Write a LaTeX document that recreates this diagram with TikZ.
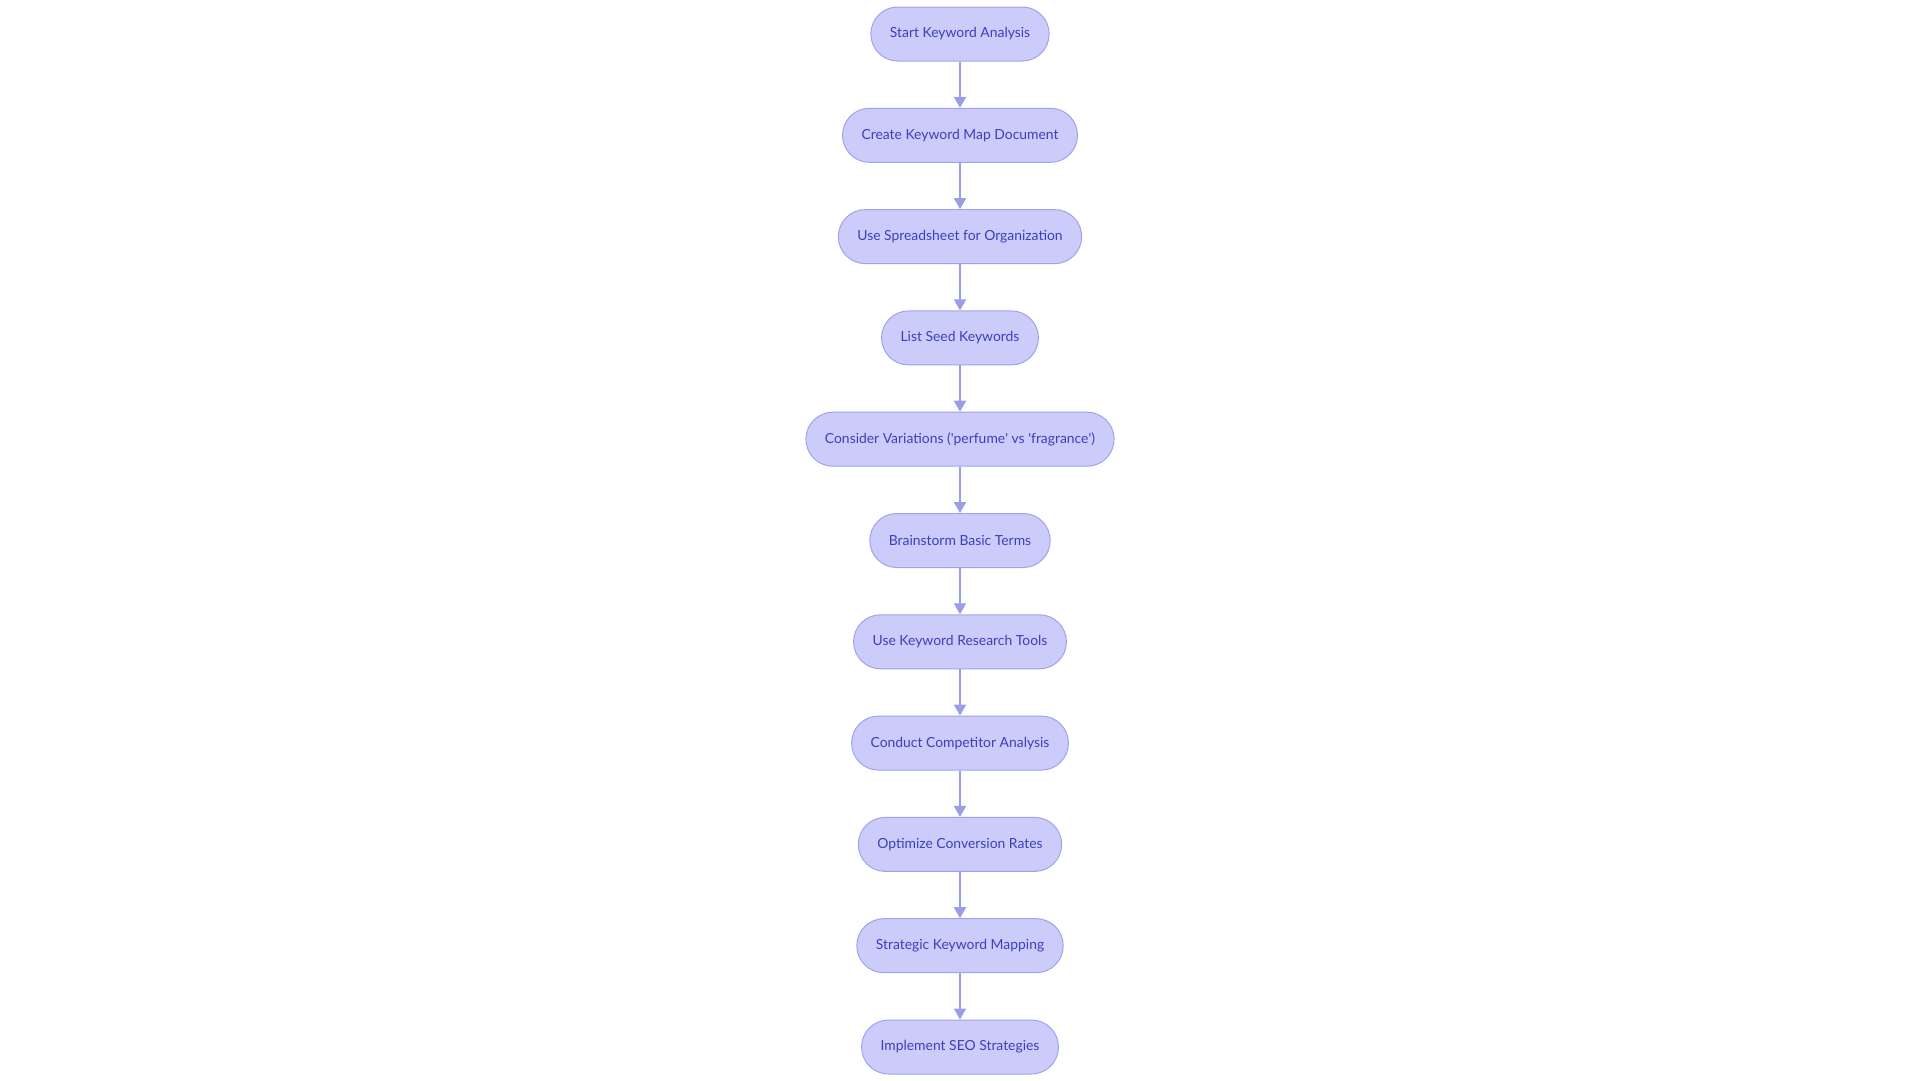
\documentclass[tikz,border=0pt]{standalone}
\usepackage{fontspec}
\setmainfont{Lato}
\newfontfamily\plainquote{Lato}[Ligatures=ResetAll]
\usepackage{xcolor}
\usepackage{tikz}
\usetikzlibrary{positioning,arrows.meta}

\definecolor{stepfill}{RGB}{203,204,250}
\definecolor{stepdraw}{RGB}{160,163,235}
\definecolor{steptext}{RGB}{62,62,190}
\definecolor{flowline}{RGB}{155,158,228}

\newcommand{\sq}{{\plainquote'}}

\tikzset{
    stepbox/.style={draw=stepdraw, fill=stepfill, line width=1pt,
        rounded corners=26.9pt, minimum height=54pt, inner xsep=19pt,
        text=steptext, font=\fontsize{13.9pt}{16pt}\selectfont},
    flow/.style={draw=flowline, line width=2pt,
        -{Triangle[length=11pt,width=12pt]}}
}

\begin{document}
\begin{tikzpicture}[x=1pt, y=1pt, node distance=46.3pt]
    \useasboundingbox (0,0) rectangle (1920,-1080);

    % steps, top to bottom
    \node[stepbox] (start) at (960,-34) {Start Keyword Analysis};
    \node[stepbox, below=of start] (mapdoc) {Create Keyword Map Document};
    \node[stepbox, below=of mapdoc] (sheet) {Use Spreadsheet for Organization};
    \node[stepbox, below=of sheet] (seed) {List Seed Keywords};
    \node[stepbox, below=of seed] (vary) {Consider Variations (\sq perfume\sq{} vs \sq fragrance\sq)};
    \node[stepbox, below=of vary] (brain) {Brainstorm Basic Terms};
    \node[stepbox, below=of brain] (tools) {Use Keyword Research Tools};
    \node[stepbox, below=of tools] (rival) {Conduct Competitor Analysis};
    \node[stepbox, below=of rival] (convert) {Optimize Conversion Rates};
    \node[stepbox, below=of convert] (mapping) {Strategic Keyword Mapping};
    \node[stepbox, below=of mapping] (seo) {Implement SEO Strategies};

    % connectors
    \foreach \a/\b in {start/mapdoc, mapdoc/sheet, sheet/seed, seed/vary,
        vary/brain, brain/tools, tools/rival, rival/convert,
        convert/mapping, mapping/seo}
        \draw[flow] (\a) -- (\b);
\end{tikzpicture}
\end{document}
